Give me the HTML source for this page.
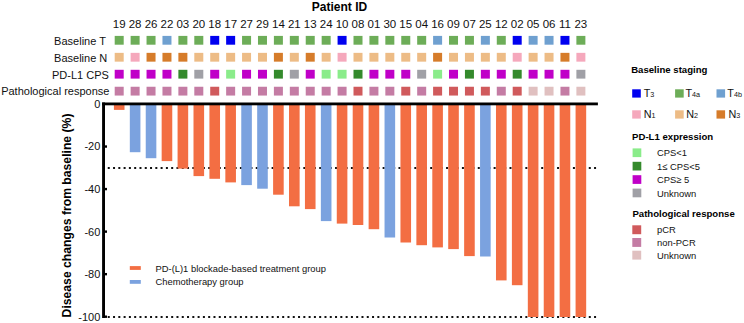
<!DOCTYPE html><html><head><meta charset="utf-8"><style>html,body{margin:0;padding:0;background:#fff;}svg{display:block;font-family:"Liberation Sans",sans-serif;}</style></head><body>
<svg width="744" height="323" viewBox="0 0 744 323">
<rect width="744" height="323" fill="#fff"/>
<text x="339.5" y="11.2" font-size="12" font-weight="bold" text-anchor="middle" fill="#000">Patient ID</text>
<text x="105.9" y="45.2" font-size="11" text-anchor="end" fill="#111">Baseline T</text>
<text x="107.3" y="61.8" font-size="11" text-anchor="end" fill="#111">Baseline N</text>
<text x="108.9" y="78.5" font-size="11" text-anchor="end" fill="#111">PD-L1 CPS</text>
<text x="109.4" y="95.2" font-size="11" text-anchor="end" fill="#111">Pathological response</text>
<text x="119.20" y="27.6" font-size="11.5" text-anchor="middle" fill="#111">19</text>
<rect x="114.70" y="35.90" width="9" height="8.8" fill="#6DAD58"/>
<rect x="114.70" y="52.85" width="9" height="8.8" fill="#EDBC86"/>
<rect x="114.70" y="69.80" width="9" height="8.8" fill="#C000C8"/>
<rect x="114.70" y="86.75" width="9" height="8.8" fill="#C47CA4"/>
<text x="135.12" y="27.6" font-size="11.5" text-anchor="middle" fill="#111">28</text>
<rect x="130.62" y="35.90" width="9" height="8.8" fill="#6DAD58"/>
<rect x="130.62" y="52.85" width="9" height="8.8" fill="#F5A8BC"/>
<rect x="130.62" y="69.80" width="9" height="8.8" fill="#C000C8"/>
<rect x="130.62" y="86.75" width="9" height="8.8" fill="#C47CA4"/>
<text x="151.04" y="27.6" font-size="11.5" text-anchor="middle" fill="#111">26</text>
<rect x="146.54" y="35.90" width="9" height="8.8" fill="#6DAD58"/>
<rect x="146.54" y="52.85" width="9" height="8.8" fill="#D67C2A"/>
<rect x="146.54" y="69.80" width="9" height="8.8" fill="#C000C8"/>
<rect x="146.54" y="86.75" width="9" height="8.8" fill="#C47CA4"/>
<text x="166.96" y="27.6" font-size="11.5" text-anchor="middle" fill="#111">22</text>
<rect x="162.46" y="35.90" width="9" height="8.8" fill="#6FA0D0"/>
<rect x="162.46" y="52.85" width="9" height="8.8" fill="#D67C2A"/>
<rect x="162.46" y="69.80" width="9" height="8.8" fill="#C000C8"/>
<rect x="162.46" y="86.75" width="9" height="8.8" fill="#C47CA4"/>
<text x="182.88" y="27.6" font-size="11.5" text-anchor="middle" fill="#111">03</text>
<rect x="178.38" y="35.90" width="9" height="8.8" fill="#6DAD58"/>
<rect x="178.38" y="52.85" width="9" height="8.8" fill="#D67C2A"/>
<rect x="178.38" y="69.80" width="9" height="8.8" fill="#348A2C"/>
<rect x="178.38" y="86.75" width="9" height="8.8" fill="#C47CA4"/>
<text x="198.80" y="27.6" font-size="11.5" text-anchor="middle" fill="#111">20</text>
<rect x="194.30" y="35.90" width="9" height="8.8" fill="#6DAD58"/>
<rect x="194.30" y="52.85" width="9" height="8.8" fill="#EDBC86"/>
<rect x="194.30" y="69.80" width="9" height="8.8" fill="#A0A0A6"/>
<rect x="194.30" y="86.75" width="9" height="8.8" fill="#C47CA4"/>
<text x="214.72" y="27.6" font-size="11.5" text-anchor="middle" fill="#111">18</text>
<rect x="210.22" y="35.90" width="9" height="8.8" fill="#0000F0"/>
<rect x="210.22" y="52.85" width="9" height="8.8" fill="#EDBC86"/>
<rect x="210.22" y="69.80" width="9" height="8.8" fill="#C000C8"/>
<rect x="210.22" y="86.75" width="9" height="8.8" fill="#D05A5C"/>
<text x="230.64" y="27.6" font-size="11.5" text-anchor="middle" fill="#111">17</text>
<rect x="226.14" y="35.90" width="9" height="8.8" fill="#0000F0"/>
<rect x="226.14" y="52.85" width="9" height="8.8" fill="#EDBC86"/>
<rect x="226.14" y="69.80" width="9" height="8.8" fill="#8AEC8A"/>
<rect x="226.14" y="86.75" width="9" height="8.8" fill="#C47CA4"/>
<text x="246.56" y="27.6" font-size="11.5" text-anchor="middle" fill="#111">27</text>
<rect x="242.06" y="35.90" width="9" height="8.8" fill="#6DAD58"/>
<rect x="242.06" y="52.85" width="9" height="8.8" fill="#EDBC86"/>
<rect x="242.06" y="69.80" width="9" height="8.8" fill="#C000C8"/>
<rect x="242.06" y="86.75" width="9" height="8.8" fill="#C47CA4"/>
<text x="262.48" y="27.6" font-size="11.5" text-anchor="middle" fill="#111">29</text>
<rect x="257.98" y="35.90" width="9" height="8.8" fill="#6DAD58"/>
<rect x="257.98" y="52.85" width="9" height="8.8" fill="#EDBC86"/>
<rect x="257.98" y="69.80" width="9" height="8.8" fill="#C000C8"/>
<rect x="257.98" y="86.75" width="9" height="8.8" fill="#C47CA4"/>
<text x="278.40" y="27.6" font-size="11.5" text-anchor="middle" fill="#111">14</text>
<rect x="273.90" y="35.90" width="9" height="8.8" fill="#6DAD58"/>
<rect x="273.90" y="52.85" width="9" height="8.8" fill="#D67C2A"/>
<rect x="273.90" y="69.80" width="9" height="8.8" fill="#348A2C"/>
<rect x="273.90" y="86.75" width="9" height="8.8" fill="#C47CA4"/>
<text x="294.32" y="27.6" font-size="11.5" text-anchor="middle" fill="#111">21</text>
<rect x="289.82" y="35.90" width="9" height="8.8" fill="#6DAD58"/>
<rect x="289.82" y="52.85" width="9" height="8.8" fill="#EDBC86"/>
<rect x="289.82" y="69.80" width="9" height="8.8" fill="#A0A0A6"/>
<rect x="289.82" y="86.75" width="9" height="8.8" fill="#C47CA4"/>
<text x="310.24" y="27.6" font-size="11.5" text-anchor="middle" fill="#111">13</text>
<rect x="305.74" y="35.90" width="9" height="8.8" fill="#6DAD58"/>
<rect x="305.74" y="52.85" width="9" height="8.8" fill="#D67C2A"/>
<rect x="305.74" y="69.80" width="9" height="8.8" fill="#C000C8"/>
<rect x="305.74" y="86.75" width="9" height="8.8" fill="#C47CA4"/>
<text x="326.16" y="27.6" font-size="11.5" text-anchor="middle" fill="#111">24</text>
<rect x="321.66" y="35.90" width="9" height="8.8" fill="#6DAD58"/>
<rect x="321.66" y="52.85" width="9" height="8.8" fill="#EDBC86"/>
<rect x="321.66" y="69.80" width="9" height="8.8" fill="#8AEC8A"/>
<rect x="321.66" y="86.75" width="9" height="8.8" fill="#C47CA4"/>
<text x="342.08" y="27.6" font-size="11.5" text-anchor="middle" fill="#111">10</text>
<rect x="337.58" y="35.90" width="9" height="8.8" fill="#0000F0"/>
<rect x="337.58" y="52.85" width="9" height="8.8" fill="#F5A8BC"/>
<rect x="337.58" y="69.80" width="9" height="8.8" fill="#8AEC8A"/>
<rect x="337.58" y="86.75" width="9" height="8.8" fill="#C47CA4"/>
<text x="358.00" y="27.6" font-size="11.5" text-anchor="middle" fill="#111">08</text>
<rect x="353.50" y="35.90" width="9" height="8.8" fill="#6DAD58"/>
<rect x="353.50" y="52.85" width="9" height="8.8" fill="#EDBC86"/>
<rect x="353.50" y="69.80" width="9" height="8.8" fill="#348A2C"/>
<rect x="353.50" y="86.75" width="9" height="8.8" fill="#D05A5C"/>
<text x="373.92" y="27.6" font-size="11.5" text-anchor="middle" fill="#111">01</text>
<rect x="369.42" y="35.90" width="9" height="8.8" fill="#6DAD58"/>
<rect x="369.42" y="52.85" width="9" height="8.8" fill="#EDBC86"/>
<rect x="369.42" y="69.80" width="9" height="8.8" fill="#C000C8"/>
<rect x="369.42" y="86.75" width="9" height="8.8" fill="#C47CA4"/>
<text x="389.84" y="27.6" font-size="11.5" text-anchor="middle" fill="#111">30</text>
<rect x="385.34" y="35.90" width="9" height="8.8" fill="#6DAD58"/>
<rect x="385.34" y="52.85" width="9" height="8.8" fill="#EDBC86"/>
<rect x="385.34" y="69.80" width="9" height="8.8" fill="#C000C8"/>
<rect x="385.34" y="86.75" width="9" height="8.8" fill="#C47CA4"/>
<text x="405.76" y="27.6" font-size="11.5" text-anchor="middle" fill="#111">15</text>
<rect x="401.26" y="35.90" width="9" height="8.8" fill="#6DAD58"/>
<rect x="401.26" y="52.85" width="9" height="8.8" fill="#EDBC86"/>
<rect x="401.26" y="69.80" width="9" height="8.8" fill="#C000C8"/>
<rect x="401.26" y="86.75" width="9" height="8.8" fill="#D05A5C"/>
<text x="421.68" y="27.6" font-size="11.5" text-anchor="middle" fill="#111">04</text>
<rect x="417.18" y="35.90" width="9" height="8.8" fill="#6DAD58"/>
<rect x="417.18" y="52.85" width="9" height="8.8" fill="#EDBC86"/>
<rect x="417.18" y="69.80" width="9" height="8.8" fill="#A0A0A6"/>
<rect x="417.18" y="86.75" width="9" height="8.8" fill="#C47CA4"/>
<text x="437.60" y="27.6" font-size="11.5" text-anchor="middle" fill="#111">16</text>
<rect x="433.10" y="35.90" width="9" height="8.8" fill="#6FA0D0"/>
<rect x="433.10" y="52.85" width="9" height="8.8" fill="#D67C2A"/>
<rect x="433.10" y="69.80" width="9" height="8.8" fill="#8AEC8A"/>
<rect x="433.10" y="86.75" width="9" height="8.8" fill="#D05A5C"/>
<text x="453.52" y="27.6" font-size="11.5" text-anchor="middle" fill="#111">09</text>
<rect x="449.02" y="35.90" width="9" height="8.8" fill="#6DAD58"/>
<rect x="449.02" y="52.85" width="9" height="8.8" fill="#EDBC86"/>
<rect x="449.02" y="69.80" width="9" height="8.8" fill="#C000C8"/>
<rect x="449.02" y="86.75" width="9" height="8.8" fill="#D05A5C"/>
<text x="469.44" y="27.6" font-size="11.5" text-anchor="middle" fill="#111">07</text>
<rect x="464.94" y="35.90" width="9" height="8.8" fill="#6DAD58"/>
<rect x="464.94" y="52.85" width="9" height="8.8" fill="#EDBC86"/>
<rect x="464.94" y="69.80" width="9" height="8.8" fill="#348A2C"/>
<rect x="464.94" y="86.75" width="9" height="8.8" fill="#D05A5C"/>
<text x="485.36" y="27.6" font-size="11.5" text-anchor="middle" fill="#111">25</text>
<rect x="480.86" y="35.90" width="9" height="8.8" fill="#6FA0D0"/>
<rect x="480.86" y="52.85" width="9" height="8.8" fill="#EDBC86"/>
<rect x="480.86" y="69.80" width="9" height="8.8" fill="#C000C8"/>
<rect x="480.86" y="86.75" width="9" height="8.8" fill="#D05A5C"/>
<text x="501.28" y="27.6" font-size="11.5" text-anchor="middle" fill="#111">12</text>
<rect x="496.78" y="35.90" width="9" height="8.8" fill="#6DAD58"/>
<rect x="496.78" y="52.85" width="9" height="8.8" fill="#EDBC86"/>
<rect x="496.78" y="69.80" width="9" height="8.8" fill="#C000C8"/>
<rect x="496.78" y="86.75" width="9" height="8.8" fill="#C47CA4"/>
<text x="517.20" y="27.6" font-size="11.5" text-anchor="middle" fill="#111">02</text>
<rect x="512.70" y="35.90" width="9" height="8.8" fill="#0000F0"/>
<rect x="512.70" y="52.85" width="9" height="8.8" fill="#F5A8BC"/>
<rect x="512.70" y="69.80" width="9" height="8.8" fill="#348A2C"/>
<rect x="512.70" y="86.75" width="9" height="8.8" fill="#D05A5C"/>
<text x="533.12" y="27.6" font-size="11.5" text-anchor="middle" fill="#111">05</text>
<rect x="528.62" y="35.90" width="9" height="8.8" fill="#6FA0D0"/>
<rect x="528.62" y="52.85" width="9" height="8.8" fill="#EDBC86"/>
<rect x="528.62" y="69.80" width="9" height="8.8" fill="#C000C8"/>
<rect x="528.62" y="86.75" width="9" height="8.8" fill="#E0C0C0"/>
<text x="549.04" y="27.6" font-size="11.5" text-anchor="middle" fill="#111">06</text>
<rect x="544.54" y="35.90" width="9" height="8.8" fill="#6FA0D0"/>
<rect x="544.54" y="52.85" width="9" height="8.8" fill="#EDBC86"/>
<rect x="544.54" y="69.80" width="9" height="8.8" fill="#C000C8"/>
<rect x="544.54" y="86.75" width="9" height="8.8" fill="#E0C0C0"/>
<text x="564.96" y="27.6" font-size="11.5" text-anchor="middle" fill="#111">11</text>
<rect x="560.46" y="35.90" width="9" height="8.8" fill="#0000F0"/>
<rect x="560.46" y="52.85" width="9" height="8.8" fill="#D67C2A"/>
<rect x="560.46" y="69.80" width="9" height="8.8" fill="#C000C8"/>
<rect x="560.46" y="86.75" width="9" height="8.8" fill="#C47CA4"/>
<text x="580.88" y="27.6" font-size="11.5" text-anchor="middle" fill="#111">23</text>
<rect x="576.38" y="35.90" width="9" height="8.8" fill="#6DAD58"/>
<rect x="576.38" y="52.85" width="9" height="8.8" fill="#F5A8BC"/>
<rect x="576.38" y="69.80" width="9" height="8.8" fill="#A0A0A6"/>
<rect x="576.38" y="86.75" width="9" height="8.8" fill="#E0C0C0"/>
<path d="M107.75 167.00h2v2h-2zM113.04 167.00h2v2h-2zM118.32 167.00h2v2h-2zM123.61 167.00h2v2h-2zM128.89 167.00h2v2h-2zM134.18 167.00h2v2h-2zM139.47 167.00h2v2h-2zM144.75 167.00h2v2h-2zM150.04 167.00h2v2h-2zM155.32 167.00h2v2h-2zM160.61 167.00h2v2h-2zM165.90 167.00h2v2h-2zM171.18 167.00h2v2h-2zM176.47 167.00h2v2h-2zM181.75 167.00h2v2h-2zM187.04 167.00h2v2h-2zM192.33 167.00h2v2h-2zM197.61 167.00h2v2h-2zM202.90 167.00h2v2h-2zM208.18 167.00h2v2h-2zM213.47 167.00h2v2h-2zM218.76 167.00h2v2h-2zM224.04 167.00h2v2h-2zM229.33 167.00h2v2h-2zM234.61 167.00h2v2h-2zM239.90 167.00h2v2h-2zM245.19 167.00h2v2h-2zM250.47 167.00h2v2h-2zM255.76 167.00h2v2h-2zM261.04 167.00h2v2h-2zM266.33 167.00h2v2h-2zM271.62 167.00h2v2h-2zM276.90 167.00h2v2h-2zM282.19 167.00h2v2h-2zM287.47 167.00h2v2h-2zM292.76 167.00h2v2h-2zM298.05 167.00h2v2h-2zM303.33 167.00h2v2h-2zM308.62 167.00h2v2h-2zM313.90 167.00h2v2h-2zM319.19 167.00h2v2h-2zM324.48 167.00h2v2h-2zM329.76 167.00h2v2h-2zM335.05 167.00h2v2h-2zM340.33 167.00h2v2h-2zM345.62 167.00h2v2h-2zM350.91 167.00h2v2h-2zM356.19 167.00h2v2h-2zM361.48 167.00h2v2h-2zM366.76 167.00h2v2h-2zM372.05 167.00h2v2h-2zM377.34 167.00h2v2h-2zM382.62 167.00h2v2h-2zM387.91 167.00h2v2h-2zM393.19 167.00h2v2h-2zM398.48 167.00h2v2h-2zM403.77 167.00h2v2h-2zM409.05 167.00h2v2h-2zM414.34 167.00h2v2h-2zM419.62 167.00h2v2h-2zM424.91 167.00h2v2h-2zM430.20 167.00h2v2h-2zM435.48 167.00h2v2h-2zM440.77 167.00h2v2h-2zM446.05 167.00h2v2h-2zM451.34 167.00h2v2h-2zM456.63 167.00h2v2h-2zM461.91 167.00h2v2h-2zM467.20 167.00h2v2h-2zM472.48 167.00h2v2h-2zM477.77 167.00h2v2h-2zM483.06 167.00h2v2h-2zM488.34 167.00h2v2h-2zM493.63 167.00h2v2h-2zM498.91 167.00h2v2h-2zM504.20 167.00h2v2h-2zM509.49 167.00h2v2h-2zM514.77 167.00h2v2h-2zM520.06 167.00h2v2h-2zM525.34 167.00h2v2h-2zM530.63 167.00h2v2h-2zM535.92 167.00h2v2h-2zM541.20 167.00h2v2h-2zM546.49 167.00h2v2h-2zM551.77 167.00h2v2h-2zM557.06 167.00h2v2h-2zM562.35 167.00h2v2h-2zM567.63 167.00h2v2h-2zM572.92 167.00h2v2h-2zM578.20 167.00h2v2h-2zM583.49 167.00h2v2h-2zM588.78 167.00h2v2h-2zM594.06 167.00h2v2h-2z" fill="#111"/>
<path d="M107.75 316.00h2v2h-2zM113.04 316.00h2v2h-2zM118.32 316.00h2v2h-2zM123.61 316.00h2v2h-2zM128.89 316.00h2v2h-2zM134.18 316.00h2v2h-2zM139.47 316.00h2v2h-2zM144.75 316.00h2v2h-2zM150.04 316.00h2v2h-2zM155.32 316.00h2v2h-2zM160.61 316.00h2v2h-2zM165.90 316.00h2v2h-2zM171.18 316.00h2v2h-2zM176.47 316.00h2v2h-2zM181.75 316.00h2v2h-2zM187.04 316.00h2v2h-2zM192.33 316.00h2v2h-2zM197.61 316.00h2v2h-2zM202.90 316.00h2v2h-2zM208.18 316.00h2v2h-2zM213.47 316.00h2v2h-2zM218.76 316.00h2v2h-2zM224.04 316.00h2v2h-2zM229.33 316.00h2v2h-2zM234.61 316.00h2v2h-2zM239.90 316.00h2v2h-2zM245.19 316.00h2v2h-2zM250.47 316.00h2v2h-2zM255.76 316.00h2v2h-2zM261.04 316.00h2v2h-2zM266.33 316.00h2v2h-2zM271.62 316.00h2v2h-2zM276.90 316.00h2v2h-2zM282.19 316.00h2v2h-2zM287.47 316.00h2v2h-2zM292.76 316.00h2v2h-2zM298.05 316.00h2v2h-2zM303.33 316.00h2v2h-2zM308.62 316.00h2v2h-2zM313.90 316.00h2v2h-2zM319.19 316.00h2v2h-2zM324.48 316.00h2v2h-2zM329.76 316.00h2v2h-2zM335.05 316.00h2v2h-2zM340.33 316.00h2v2h-2zM345.62 316.00h2v2h-2zM350.91 316.00h2v2h-2zM356.19 316.00h2v2h-2zM361.48 316.00h2v2h-2zM366.76 316.00h2v2h-2zM372.05 316.00h2v2h-2zM377.34 316.00h2v2h-2zM382.62 316.00h2v2h-2zM387.91 316.00h2v2h-2zM393.19 316.00h2v2h-2zM398.48 316.00h2v2h-2zM403.77 316.00h2v2h-2zM409.05 316.00h2v2h-2zM414.34 316.00h2v2h-2zM419.62 316.00h2v2h-2zM424.91 316.00h2v2h-2zM430.20 316.00h2v2h-2zM435.48 316.00h2v2h-2zM440.77 316.00h2v2h-2zM446.05 316.00h2v2h-2zM451.34 316.00h2v2h-2zM456.63 316.00h2v2h-2zM461.91 316.00h2v2h-2zM467.20 316.00h2v2h-2zM472.48 316.00h2v2h-2zM477.77 316.00h2v2h-2zM483.06 316.00h2v2h-2zM488.34 316.00h2v2h-2zM493.63 316.00h2v2h-2zM498.91 316.00h2v2h-2zM504.20 316.00h2v2h-2zM509.49 316.00h2v2h-2zM514.77 316.00h2v2h-2zM520.06 316.00h2v2h-2zM525.34 316.00h2v2h-2zM530.63 316.00h2v2h-2zM535.92 316.00h2v2h-2zM541.20 316.00h2v2h-2zM546.49 316.00h2v2h-2zM551.77 316.00h2v2h-2zM557.06 316.00h2v2h-2zM562.35 316.00h2v2h-2zM567.63 316.00h2v2h-2zM572.92 316.00h2v2h-2zM578.20 316.00h2v2h-2zM583.49 316.00h2v2h-2zM588.78 316.00h2v2h-2zM594.06 316.00h2v2h-2z" fill="#111"/>
<rect x="113.90" y="104" width="10.6" height="5.90" fill="#F36E43"/>
<rect x="129.82" y="104" width="10.6" height="48.20" fill="#7BA2DF"/>
<rect x="145.74" y="104" width="10.6" height="54.20" fill="#7BA2DF"/>
<rect x="161.66" y="104" width="10.6" height="57.10" fill="#F36E43"/>
<rect x="177.58" y="104" width="10.6" height="64.60" fill="#F36E43"/>
<rect x="193.50" y="104" width="10.6" height="72.10" fill="#F36E43"/>
<rect x="209.42" y="104" width="10.6" height="74.80" fill="#F36E43"/>
<rect x="225.34" y="104" width="10.6" height="78.40" fill="#F36E43"/>
<rect x="241.26" y="104" width="10.6" height="81.10" fill="#7BA2DF"/>
<rect x="257.18" y="104" width="10.6" height="84.70" fill="#7BA2DF"/>
<rect x="273.10" y="104" width="10.6" height="90.70" fill="#F36E43"/>
<rect x="289.02" y="104" width="10.6" height="102.30" fill="#F36E43"/>
<rect x="304.94" y="104" width="10.6" height="105.10" fill="#F36E43"/>
<rect x="320.86" y="104" width="10.6" height="117.10" fill="#7BA2DF"/>
<rect x="336.78" y="104" width="10.6" height="119.60" fill="#F36E43"/>
<rect x="352.70" y="104" width="10.6" height="121.00" fill="#F36E43"/>
<rect x="368.62" y="104" width="10.6" height="125.20" fill="#F36E43"/>
<rect x="384.54" y="104" width="10.6" height="133.50" fill="#7BA2DF"/>
<rect x="400.46" y="104" width="10.6" height="138.50" fill="#F36E43"/>
<rect x="416.38" y="104" width="10.6" height="141.20" fill="#F36E43"/>
<rect x="432.30" y="104" width="10.6" height="143.40" fill="#F36E43"/>
<rect x="448.22" y="104" width="10.6" height="145.10" fill="#F36E43"/>
<rect x="464.14" y="104" width="10.6" height="152.10" fill="#F36E43"/>
<rect x="480.06" y="104" width="10.6" height="152.50" fill="#7BA2DF"/>
<rect x="495.98" y="104" width="10.6" height="176.40" fill="#F36E43"/>
<rect x="511.90" y="104" width="10.6" height="181.20" fill="#F36E43"/>
<rect x="527.82" y="104" width="10.6" height="213.00" fill="#F36E43"/>
<rect x="543.74" y="104" width="10.6" height="213.00" fill="#F36E43"/>
<rect x="559.66" y="104" width="10.6" height="213.00" fill="#F36E43"/>
<rect x="575.58" y="104" width="10.6" height="213.00" fill="#F36E43"/>
<rect x="102.1" y="102.5" width="495.8" height="2.8" fill="#000"/>
<rect x="102.1" y="102.5" width="2.9" height="215.5" fill="#000"/>
<rect x="104" y="145.34" width="3" height="2.4" fill="#000"/>
<text x="100.3" y="150.44" font-size="11" text-anchor="end" fill="#111">-20</text>
<rect x="104" y="187.88" width="3" height="2.4" fill="#000"/>
<text x="100.3" y="192.98" font-size="11" text-anchor="end" fill="#111">-40</text>
<rect x="104" y="230.42" width="3" height="2.4" fill="#000"/>
<text x="100.3" y="235.52" font-size="11" text-anchor="end" fill="#111">-60</text>
<rect x="104" y="272.96" width="3" height="2.4" fill="#000"/>
<text x="100.3" y="278.06" font-size="11" text-anchor="end" fill="#111">-80</text>
<rect x="104" y="315.50" width="3" height="2.4" fill="#000"/>
<text x="100.3" y="320.60" font-size="11" text-anchor="end" fill="#111">-100</text>
<text x="100.3" y="107.6" font-size="11" text-anchor="end" fill="#111">0</text>
<text transform="translate(71.2,317.4) rotate(-90)" font-size="12.2" font-weight="bold" fill="#000">Disease changes from baseline (%)</text>
<rect x="129.8" y="266.1" width="11" height="3.8" fill="#F36E43"/>
<rect x="129.8" y="280" width="11" height="3.8" fill="#7BA2DF"/>
<text x="155.5" y="271.8" font-size="9.4" fill="#111">PD-(L)1 blockade-based treatment group</text>
<text x="155.5" y="285.3" font-size="9.4" fill="#111">Chemotherapy group</text>
<text x="631.2" y="73.4" font-size="9.6" font-weight="bold" fill="#000">Baseline staging</text>
<rect x="632.2" y="89.3" width="8.6" height="8.3" fill="#0000F0"/>
<text x="643.7" y="96.9" font-size="10.8" fill="#111">T<tspan font-size="7.2">3</tspan></text>
<rect x="675.1" y="89.3" width="8.6" height="8.3" fill="#6DAD58"/>
<text x="685.5" y="96.9" font-size="10.8" fill="#111">T<tspan font-size="7.2">4a</tspan></text>
<rect x="716.5" y="89.3" width="8.6" height="8.3" fill="#6FA0D0"/>
<text x="727.3" y="96.9" font-size="10.8" fill="#111">T<tspan font-size="7.2">4b</tspan></text>
<rect x="632.2" y="110.3" width="8.6" height="8.3" fill="#F5A8BC"/>
<text x="643.7" y="117.9" font-size="10.8" fill="#111">N<tspan font-size="7.2">1</tspan></text>
<rect x="675.1" y="110.3" width="8.6" height="8.3" fill="#EDBC86"/>
<text x="686.3" y="117.9" font-size="10.8" fill="#111">N<tspan font-size="7.2">2</tspan></text>
<rect x="716.5" y="110.3" width="8.6" height="8.3" fill="#D67C2A"/>
<text x="728.4" y="117.9" font-size="10.8" fill="#111">N<tspan font-size="7.2">3</tspan></text>
<text x="632.1" y="140.2" font-size="9.6" font-weight="bold" fill="#000">PD-L1 expression</text>
<rect x="632.6" y="148.4" width="8.7" height="8.7" fill="#8AEC8A"/>
<text x="657.1" y="156.4" font-size="9.4" fill="#111">CPS&lt;1</text>
<rect x="632.6" y="161.8" width="8.7" height="8.7" fill="#348A2C"/>
<text x="657.1" y="169.8" font-size="9.4" fill="#111">1≤ CPS&lt;5</text>
<rect x="632.6" y="175.2" width="8.7" height="8.7" fill="#C000C8"/>
<text x="657.1" y="183.2" font-size="9.4" fill="#111">CPS≥ 5</text>
<rect x="632.6" y="188.6" width="8.7" height="8.7" fill="#A0A0A6"/>
<text x="657.1" y="196.6" font-size="9.4" fill="#111">Unknown</text>
<text x="632.4" y="217.1" font-size="9.6" font-weight="bold" fill="#000">Pathological response</text>
<rect x="632.3" y="225.3" width="8.9" height="8.9" fill="#D05A5C"/>
<text x="657.1" y="233.3" font-size="9.4" fill="#111">pCR</text>
<rect x="632.3" y="238.0" width="8.9" height="8.9" fill="#C47CA4"/>
<text x="657.1" y="246.0" font-size="9.4" fill="#111">non-PCR</text>
<rect x="632.3" y="250.7" width="8.9" height="8.9" fill="#E0C0C0"/>
<text x="657.1" y="258.7" font-size="9.4" fill="#111">Unknown</text>
</svg></body></html>
